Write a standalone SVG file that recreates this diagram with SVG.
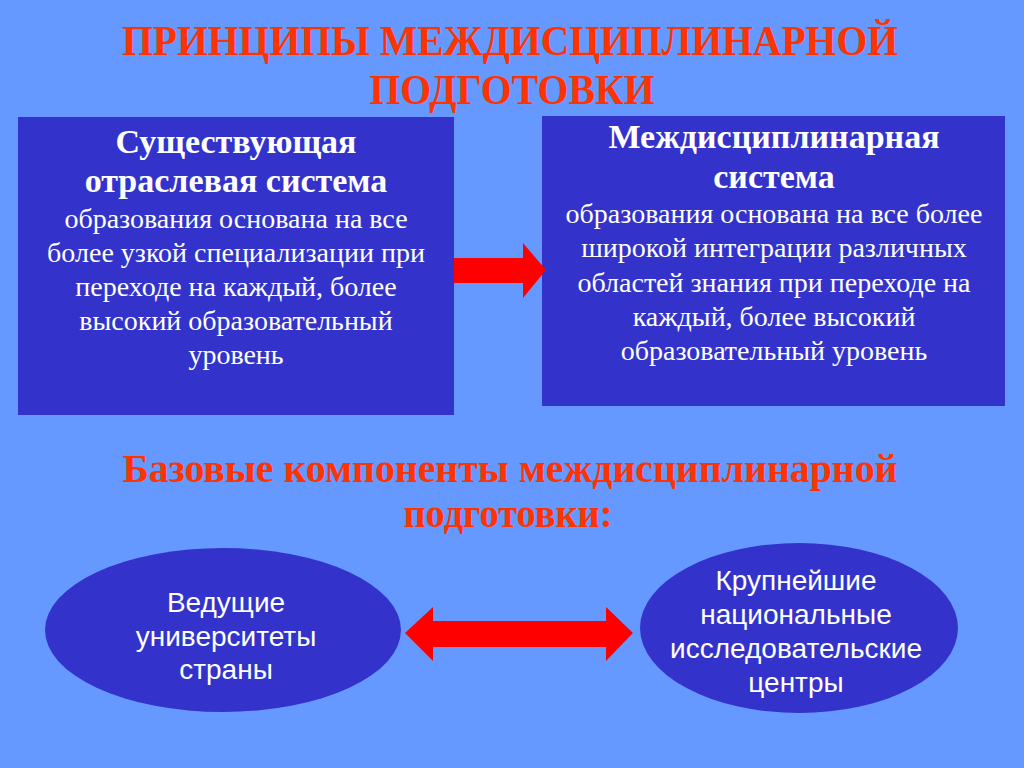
<svg xmlns="http://www.w3.org/2000/svg" width="1024" height="768" viewBox="0 0 1024 768">
<defs>
<style>
.title{font-family:"Liberation Serif","Times New Roman",serif;font-weight:bold;fill:#FF3300;text-anchor:middle}
.head{font-family:"Liberation Serif","Times New Roman",serif;font-weight:bold;fill:#FFFFFF;font-size:34px;text-anchor:middle}
.body{font-family:"Liberation Serif","Times New Roman",serif;fill:#FFFFFF;font-size:28px;text-anchor:middle}
.ell{font-family:"Liberation Sans",Arial,sans-serif;fill:#FFFFFF;font-size:28px;text-anchor:middle}
.box{fill:#3333CC}
.arrow{fill:#FF0000}
</style>
</defs>
<rect width="1024" height="768" fill="#6699FF"/>
<g id="title">
<text class="title" x="510" y="55" font-size="43" textLength="776" lengthAdjust="spacingAndGlyphs">ПРИНЦИПЫ МЕЖДИСЦИПЛИНАРНОЙ</text>
<text class="title" x="512" y="104" font-size="43" textLength="285" lengthAdjust="spacingAndGlyphs">ПОДГОТОВКИ</text>
</g>
<g id="box-existing">
<rect class="box" x="18" y="117" width="436" height="298"/>
<text class="head" x="236" y="153">Существующая</text>
<text class="head" x="236" y="192">отраслевая система</text>
<text class="body" x="236" y="228">образования основана на все</text>
<text class="body" x="236" y="262">более узкой специализации при</text>
<text class="body" x="236" y="296">переходе на каждый, более</text>
<text class="body" x="236" y="330">высокий образовательный</text>
<text class="body" x="236" y="364">уровень</text>
</g>
<g id="box-interdisciplinary">
<rect class="box" x="542" y="116" width="463" height="290"/>
<text class="head" x="774" y="148">Междисциплинарная</text>
<text class="head" x="774" y="188">система</text>
<text class="body" x="774" y="223">образования основана на все более</text>
<text class="body" x="774" y="257">широкой интеграции различных</text>
<text class="body" x="774" y="292">областей знания при переходе на</text>
<text class="body" x="774" y="326">каждый, более высокий</text>
<text class="body" x="774" y="360">образовательный уровень</text>
</g>
<g id="subtitle">
<text class="title" x="510" y="482" font-size="39" textLength="775" lengthAdjust="spacingAndGlyphs">Базовые компоненты междисциплинарной</text>
<text class="title" x="508" y="527" font-size="39" textLength="209" lengthAdjust="spacingAndGlyphs">подготовки:</text>
</g>
<g id="node-universities">
<ellipse class="box" cx="223" cy="630" rx="178" ry="82"/>
<text class="ell" x="226" y="612">Ведущие</text>
<text class="ell" x="226" y="646">университеты</text>
<text class="ell" x="226" y="679">страны</text>
</g>
<g id="node-centers">
<ellipse class="box" cx="799" cy="628" rx="159" ry="85"/>
<text class="ell" x="796" y="590">Крупнейшие</text>
<text class="ell" x="796" y="624">национальные</text>
<text class="ell" x="796" y="658">исследовательские</text>
<text class="ell" x="796" y="692">центры</text>
</g>
<g id="connectors">
<polygon class="arrow" points="454,258 523,258 523,243 546,270 523,298 523,283 454,283"/>
<polygon class="arrow" points="405,633 433,607 433,621 606,621 606,607 633,633 606,661 606,647 433,647 433,661"/>
</g>
</svg>
